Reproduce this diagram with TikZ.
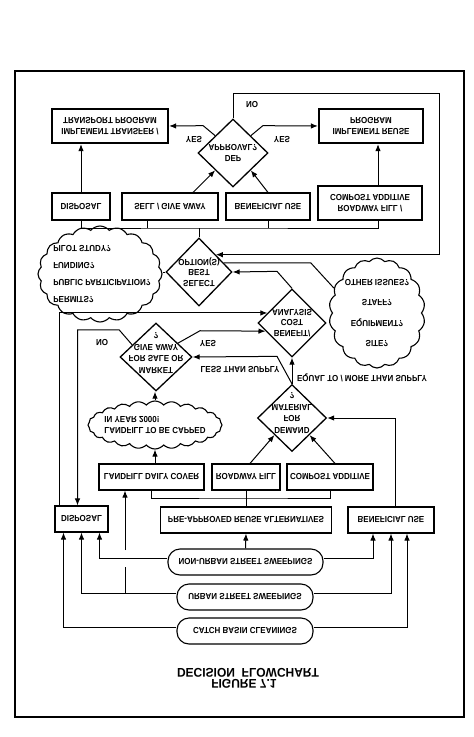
\documentclass[tikz,border=0pt]{standalone}
\usepackage{fontspec}
\setmainfont{Liberation Sans}
\usetikzlibrary{arrows.meta,shapes.geometric,shapes.symbols,calc}
\begin{document}
\begin{tikzpicture}[x=1pt,y=-1pt,
  line width=1pt,
  txt/.style={yscale=-1.1, align=center, font=\bfseries\fontsize{8}{9.6}\selectfont, inner sep=0pt},
  ttl/.style={yscale=-1.05, font=\bfseries\fontsize{12}{14}\selectfont, inner sep=0pt},
  box/.style={draw, line width=1.1pt, inner sep=0pt},
  tbox/.style={draw, line width=2.2pt, inner sep=0pt},
  dia/.style={draw, diamond, line width=1.3pt, inner sep=0pt},
  cld/.style={draw, cloud, cloud puffs=#1, cloud puff arc=100, line width=1.1pt, inner sep=0pt},
  rbox/.style={draw, rounded corners=12pt, line width=1.1pt, inner sep=0pt},
  arr/.style={-{Latex[length=7pt,width=5.5pt]}},
]
\useasboundingbox (0,0) rectangle (474,737);
\draw[line width=1.2pt] (15,71) rectangle (464,717);

% ---------- top part ----------
\node[tbox, minimum width=116pt, minimum height=34pt, label={[txt]center:{IMPLEMENT TRANSFER /\\TRANSPORT PROGRAM}}] (trans) at (110,126) {};
\node[tbox, minimum width=104pt, minimum height=34pt, label={[txt]center:{IMPLEMENT REUSE\\PROGRAM}}] (reuse) at (371,126) {};
\node[dia, minimum width=70pt, minimum height=68pt, label={[txt]center:{DEP\\APPROVAL?}}] (dep) at (233,153) {};
\node[box, minimum width=58pt, minimum height=27pt, label={[txt]center:DISPOSAL}] (disp1) at (81,206.5) {};
\node[box, minimum width=96pt, minimum height=27pt, label={[txt]center:SELL / GIVE AWAY}] (sell) at (170,206.5) {};
\node[box, minimum width=84pt, minimum height=27pt, label={[txt]center:BENEFICIAL USE}] (ben1) at (268,206.5) {};
\node[tbox, minimum width=104pt, minimum height=34pt, label={[txt]center:{ROADWAY FILL /\\COMPOST ADDITIVE}}] (road1) at (370,203) {};

% ---------- middle part ----------
\node[dia, minimum width=66pt, minimum height=68pt, label={[txt]center:{SELECT\\BEST\\OPTION(S)}}] (sel) at (199,272) {};
\node[cld=20, minimum width=124pt, minimum height=96pt, label={[xshift=2pt,txt,align=left]center:{PERMITS?\\[5.8pt]PUBLIC PARTICIPATION?\\[5.8pt]FUNDING?\\[5.8pt]PILOT STUDY?}}] (lc) at (100,274) {};
\node[cld=18, minimum width=96pt, minimum height=110pt, label={[txt]center:{SITE?\\[8.8pt]EQUIPMENT?\\[8.8pt]STAFF?\\[8.8pt]OTHER ISSUES?}}] (rc) at (377,313) {};
\node[dia, minimum width=68pt, minimum height=68pt, label={[txt]center:{BENEFIT/\\COST\\ANALYSIS}}] (cb) at (292,323) {};
\node[dia, minimum width=72pt, minimum height=68pt, label={[yshift=4pt,txt]center:{MARKET\\[0.8pt]FOR SALE OR\\[0.8pt]GIVE AWAY\\[0.8pt]?}}] (mk) at (156,357) {};
\node[dia, minimum width=69pt, minimum height=67pt, label={[yshift=5pt,txt]center:{DEMAND\\[0.8pt]FOR\\[0.8pt]MATERIAL\\[0.8pt]?}}] (dm) at (292,418) {};
\node[cld=24, minimum width=134pt, minimum height=48pt, label={[txt,align=left]center:{LANDFILL TO BE CAPPED\\[0.4pt]IN YEAR 2000!}}] (lfc) at (155,425) {};

% ---------- lower part ----------
\node[box, minimum width=105pt, minimum height=26pt, label={[txt]center:LANDFILL DAILY COVER}] (ldc) at (151.5,477) {};
\node[box, minimum width=68pt, minimum height=26pt, label={[txt]center:ROADWAY FILL}] (rf) at (246,477) {};
\node[box, minimum width=86pt, minimum height=26pt, label={[txt]center:COMPOST ADDITIVE}] (ca) at (330,477) {};
\node[box, minimum width=53pt, minimum height=26pt, label={[txt]center:DISPOSAL}] (disp2) at (81.5,519) {};
\node[box, minimum width=171pt, minimum height=26pt, label={[txt]center:PRE-APPROVED REUSE ALTERNATIVES}] (pre) at (246,520) {};
\node[box, minimum width=86pt, minimum height=26pt, label={[txt]center:BENEFICIAL USE}] (ben2) at (391,520) {};
\node[rbox, minimum width=155pt, minimum height=26pt, label={[txt]center:NON-URBAN STREET SWEEPINGS}] (nu) at (245.5,562) {};
\node[rbox, minimum width=136pt, minimum height=26pt, label={[txt]center:URBAN STREET SWEEPINGS}] (ur) at (245,597) {};
\node[rbox, minimum width=136pt, minimum height=26pt, label={[txt]center:CATCH BASIN CLEANINGS}] (cbc) at (245,631) {};

% ---------- title ----------
\node[ttl] (t1) at (248,673) {DECISION\ \ FLOWCHART};
\node[ttl] (t2) at (244,684) {FIGURE\ 7.1};

% ---------- connectors top ----------
\draw[arr] (disp1.north) -- (disp1.north |- trans.south);
\draw[arr] ([xshift=23pt]sell.north) -- (dep.south west);
\draw[arr] (ben1.north) -- (dep.south east);
\draw[arr] ([xshift=8pt]road1.north) -- ([xshift=8pt]road1.north |- reuse.south);
\draw[arr] (dep.north west) -- ++(-12,-10) -- (trans.east);
\draw[arr] (dep.north east) -- ++(12,-10) -- (reuse.west);
\coordinate (noR) at (439,93);
\draw[arr] (dep.north) |- (noR) |- (sel.north east);
\coordinate (bus) at (199,228);
\draw (sel.north) -- (bus);
\draw (disp1.south) |- (bus) -| ([xshift=8pt]road1.south);
\draw ([xshift=-23pt]sell.south) -- ([xshift=-23pt]sell.south |- bus);
\draw (ben1.south) -- (ben1.south |- bus);

% ---------- connectors middle ----------
\draw (sel.west) -- (sel.west -| lc.east);
\draw ($(sel.north east)!0.47!(sel.east)$) -- ++(87,0) -- (rc.150);
\draw[arr] (cb.north) -- ++(-15,-17) -- (sel.east);
\draw[arr] ([xshift=-22pt]disp2.north) |- ($(cb.west)!0.29!(cb.north)$);
\draw[arr] ($(mk.north)!0.6!(mk.east)$) -- ++(22,-12.4) -- ($(cb.west)!0.235!(cb.south)$);
\draw[arr] ($(mk.north)!0.65!(mk.west)$) -- ++(-13,-15) -| ([xshift=-4pt]disp2.north);
\draw[arr] (dm.north) -- (cb.south);
\draw[arr] (dm.north) -- ++(-15,-27.5) -- (mk.east);
\draw[arr] (lfc.north) -- (lfc.north |- mk.south);
\draw[arr] (lfc.south |- ldc.north) -- (lfc.south);
\draw[arr] ([xshift=4pt]rf.north) -- (dm.south west);
\draw[arr] ([xshift=5pt]ca.north) -- (dm.south east);
\draw[arr] ([xshift=4pt]ben2.north) |- (dm.east);

% ---------- connectors lower ----------
\coordinate (bus2) at (246,498);
\draw (ldc.south) |- (bus2) -| (ca.south);
\draw (rf.south) -- (pre.north);
\draw[arr] (nu.north) -- (pre.south);
\draw[arr] ([yshift=4pt]nu.west) -| ([xshift=18pt]disp2.south);
\draw[arr] ([yshift=4pt]ur.west) -| (disp2.south);
\draw[arr] ([yshift=4pt]cbc.west) -| ([xshift=-18pt]disp2.south);
\draw[arr] ([yshift=4pt]nu.east) -| ([xshift=-18pt]ben2.south);
\draw[arr] ([yshift=4pt]ur.east) -| (ben2.south);
\draw[arr] ([yshift=4pt]cbc.east) -| ([xshift=16pt]ben2.south);
\coordinate (hopB) at (125,593);
\coordinate (hopM) at (125,567);
\coordinate (hopT) at (125,550);
\draw (hopB) -- (hopM);
\draw[arr] (hopT) -- (ldc.south -| hopT);

% ---------- labels ----------
\node[txt] (yes1) at (194,140) {YES};
\node[txt] (yes2) at (282,140) {YES};
\node[txt] (no1) at (252,105) {NO};
\node[txt] (no2) at (102,343) {NO};
\node[txt] (yes3) at (208,344) {YES};
\node[txt] (less) at (240,370) {LESS THAN SUPPLY};
\node[txt] (eq) at (362,378) {EQUAL TO / MORE THAN SUPPLY};
\end{tikzpicture}
\end{document}
